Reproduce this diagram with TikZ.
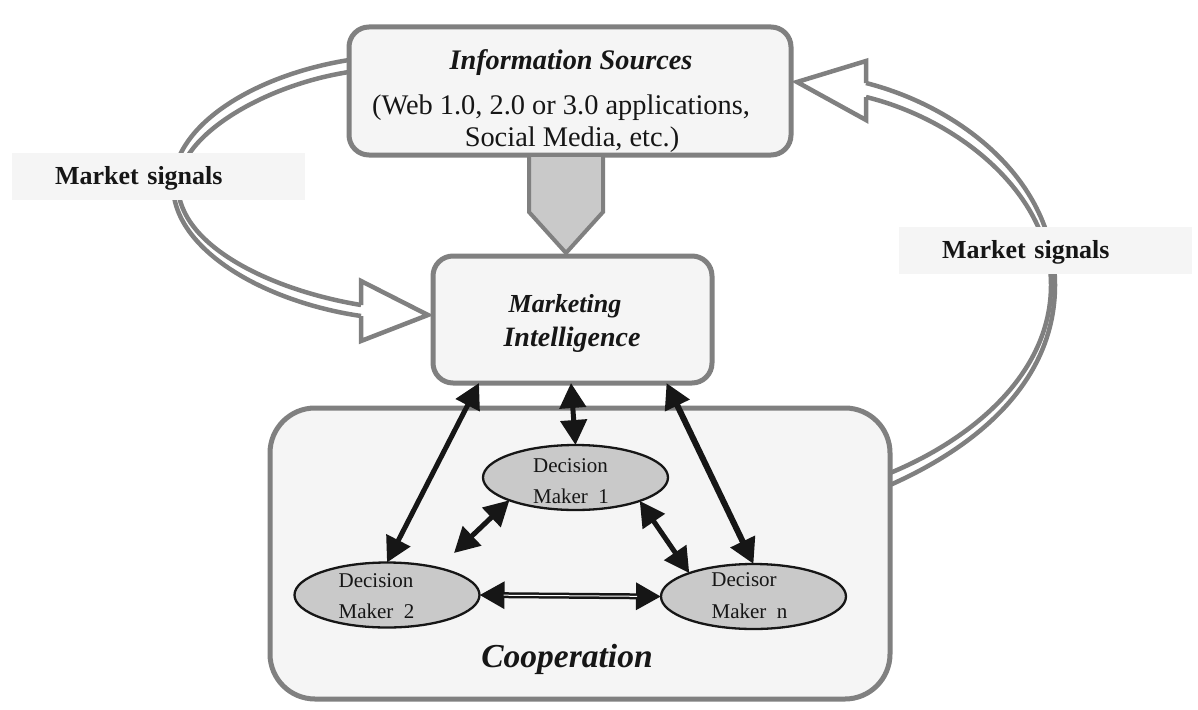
\documentclass[tikz,border=0pt]{standalone}
\usepackage{fontspec}
\setmainfont{Liberation Serif}
\usetikzlibrary{arrows.meta,shapes.geometric}
\definecolor{edgegray}{HTML}{808080}
\definecolor{panel}{HTML}{F5F5F5}
\definecolor{blob}{HTML}{C9C9C9}
\definecolor{ink}{HTML}{161616}
\newcommand{\fsz}[1]{\fontsize{#1}{#1}\selectfont}
\tikzset{
  box/.style={draw=edgegray,fill=panel,line width=5pt,rounded corners=#1,inner sep=0pt,outer sep=0pt},
  dm/.style={ellipse,draw=ink,fill=blob,line width=2.3pt,minimum width=185pt,minimum height=65pt,inner sep=0pt,outer sep=0pt},
  sig/.style={fill=panel,inner ysep=0pt,inner xsep=43pt,text width=207pt,text height=17pt,text depth=0pt,minimum height=47pt,align=left,font=\fsz{26}\bfseries,text=ink,outer sep=0pt},
  flow/.style={draw=edgegray,line width=4.5pt},
  link/.style={draw=ink,line width=#1,{Triangle[length=25pt,width=26pt]}-{Triangle[length=25pt,width=26pt]}},
  txt/.style={text=ink,inner sep=0pt},
}
\begin{document}
\begin{tikzpicture}[x=1pt,y=-1pt]
\useasboundingbox (0,0) rectangle (1198,709);
% boxes
\node[box=20pt,minimum width=442pt,minimum height=128pt] (info) at (570,91) {};
\node[box=45pt,minimum width=620pt,minimum height=291pt] (coop) at (580,553.5) {};
\node[box=20pt,minimum width=279pt,minimum height=127pt] (mi) at (572.5,319.5) {};
% block arrow
\draw[draw=edgegray,fill=blob,line width=4pt,line join=miter]
  ([xshift=-41pt,yshift=-2pt]info.south) -- ++(0,55) -- ([xshift=-6.5pt,yshift=3pt]mi.north) -- (603,212) -- ([xshift=33pt,yshift=-2pt]info.south);
% market-signal connectors
\coordinate (ltA) at (361,316);
\coordinate (ltB) at (361,305);
\coordinate (rtA) at (866,83);
\coordinate (rtB) at (866,97);
\draw[flow] ([yshift=31pt]info.west) .. controls (255,75) and (173,125) .. (173,185)
   .. controls (173,250) and (265,302) .. (ltA);
\draw[flow] ([yshift=19pt]info.west) .. controls (265,85) and (179,135) .. (178,185)
   .. controls (178,245) and (270,290) .. (ltB);
\draw[flow,line join=miter] (ltB) -- (361,281) -- ([xshift=-5pt,yshift=4.5pt]mi.west) -- (361,341) -- (ltA);
\draw[flow] (rtA) .. controls (960,107) and (1055,180) .. (1055,285)
   .. controls (1055,380) and (980,445) .. ([yshift=68.5pt]coop.east);
\draw[flow] (rtB) .. controls (960,120) and (1051,195) .. (1051,285)
   .. controls (1051,375) and (970,440) .. ([yshift=80.5pt]coop.east);
\draw[flow,line join=miter] (rtA) -- (866,61) -- ([xshift=6pt,yshift=9pt]info.east) -- (866,120) -- (rtB);
% signal labels
\node[sig,anchor=center] (sigL) at (158.5,176) {Market signals};
\node[sig,anchor=center] (sigR) at (1045.5,250) {Market signals};
% decision makers
\node[dm] (dm1) at (575.5,477.5) {};
\node[dm] (dm2) at (387,595) {};
\node[dm] (dmn) at (753.5,596.5) {};
% links
\coordinate (free) at (454,553);
\draw[link=5pt] ([xshift=-93.5pt]mi.south) -- (dm2.north);
\draw[link=5pt] ([xshift=-1.5pt]mi.south) -- (dm1.north);
\draw[link=6pt] ([xshift=94pt]mi.south) -- (dmn.north);
\draw[link=5pt] (dm1.199) -- (free);
\draw[link=5pt] (dm1.-20) -- (dmn.160);
\draw[link=6pt] (dm2.east) -- (dmn.west);
\draw[white,line width=1pt,shorten >=24pt,shorten <=24pt] (dm2.east) -- (dmn.west);
% texts
\node[txt,font=\fsz{28.3}\bfseries\itshape] (t1) at (571,63) {Information Sources};
\node[txt,font=\fsz{28.4}] (t2) at (561,108) {(Web 1.0, 2.0 or 3.0 applications,};
\node[txt,font=\fsz{28.4}] (t3) at (572,140) {Social Media, etc.)};
\node[txt,font=\fsz{26}\bfseries\itshape] (t4) at (565,306) {Marketing};
\node[txt,font=\fsz{28}\bfseries\itshape] (t5) at (572,340) {Intelligence};
\node[txt,font=\fsz{33.5}\bfseries\itshape] (t6) at (567,659) {Cooperation};
\node[txt,font=\fsz{21}] (d1a) at (570.5,466) {Decision};
\node[txt,font=\fsz{21}] (d1b) at (571,496) {Maker~~1};
\node[txt,font=\fsz{21}] (d2a) at (376,581) {Decision};
\node[txt,font=\fsz{21}] (d2b) at (376.5,611) {Maker~~2};
\node[txt,font=\fsz{21}] (dna) at (744,580) {Decisor};
\node[txt,font=\fsz{21}] (dnb) at (749.5,611) {Maker~~n};
\end{tikzpicture}
\end{document}
